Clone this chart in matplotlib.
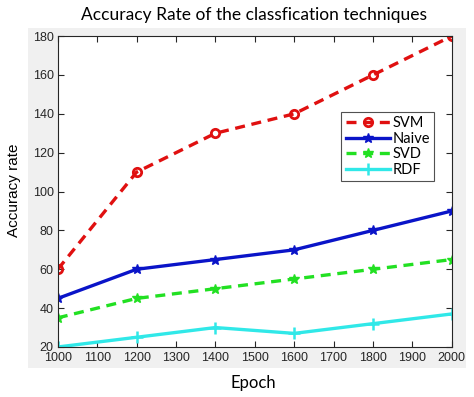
import matplotlib.pyplot as plt
from matplotlib.patches import Rectangle

# --- data ---
epochs = [1000, 1200, 1400, 1600, 1800, 2000]
svm = [60, 110, 130, 140, 160, 180]
naive = [45, 60, 65, 70, 80, 90]
svd = [35, 45, 50, 55, 60, 65]
rdf = [20, 25, 30, 27, 32, 37]
x_ticks = list(range(1000, 2001, 100))
y_ticks = list(range(20, 181, 20))

fig = plt.figure(figsize=(4.74, 3.97), dpi=100)
fig.patch.set_facecolor('white')

# light grey MATLAB figure background behind the axes
fig.patches.append(Rectangle((0.059, 0.073), 0.924, 0.856, transform=fig.transFigure,
                             facecolor='#f0f0f0', edgecolor='none', zorder=-5))

ax = fig.add_axes([0.122, 0.126, 0.831, 0.783])
ax.set_facecolor('white')
ax.set_zorder(1)

ax.plot(epochs, svm, color='#e01010', ls='--', lw=2.4, marker='o', ms=6,
        mfc='none', mew=2, label='SVM', dashes=(3, 2))
ax.plot(epochs, naive, color='#0a14c8', ls='-', lw=2.4, marker='*', ms=7, label='Naive')
ax.plot(epochs, svd, color='#22e022', ls='--', lw=2.4, marker='*', ms=7, label='SVD', dashes=(3, 2))
ax.plot(epochs, rdf, color='#30e8e8', ls='-', lw=2.4, marker='+', ms=8, mew=1.8, label='RDF')

ax.set_xlim(1000, 2000)
ax.set_ylim(20, 180)
ax.set_xticks(x_ticks)
ax.set_yticks(y_ticks)
ax.tick_params(direction='in', top=True, right=True, length=4, labelsize=9,
               colors='#262626', pad=2)
ax.tick_params(axis='x', pad=3.5)
ax.tick_params(axis='y', pad=3)
for lab in ax.get_xticklabels() + ax.get_yticklabels():
    lab.set_family('Liberation Sans')
for s in ax.spines.values():
    s.set_color('#262626')
    s.set_linewidth(0.8)

fig.text(0.535, 0.962, 'Accuracy Rate of the classfication techniques', ha='center',
         va='center', fontsize=12.5, family='Lato')
fig.text(0.535, 0.035, 'Epoch', ha='center', va='center', fontsize=12, family='Lato')
fig.text(0.03, 0.52, 'Accuracy rate', ha='center', va='center', rotation=90,
         fontsize=11, family='Liberation Sans')

leg = ax.legend(loc='upper left', bbox_to_anchor=(0.72, 0.756), frameon=True,
                fancybox=False, edgecolor='#262626', fontsize=10.5, handlelength=3.0,
                borderpad=0.3, labelspacing=0.1, handletextpad=0.2,
                borderaxespad=0)
leg.get_frame().set_linewidth(0.8)
for t in leg.get_texts():
    t.set_family('Lato')

fig.savefig('out.png', dpi=100)
